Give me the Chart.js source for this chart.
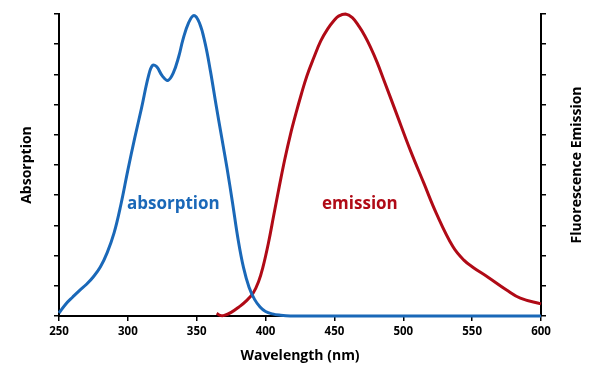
<!DOCTYPE html>
<html>
<head>
<meta charset="utf-8">
<script src="https://cdn.jsdelivr.net/npm/chart.js@4"></script>
<style>
  html, body { margin: 0; padding: 0; background: #fff; }
  #wrap { width: 594px; height: 384px; }
</style>
</head>
<body>
<div id="wrap"><canvas id="spectraChart" width="594" height="384"></canvas></div>
<script>
const ctx = document.getElementById('spectraChart').getContext('2d');

// Datos
const absWavelengths = [250, 255, 260, 265, 270, 275, 280, 285, 290, 295, 300, 305, 310, 315, 318, 321, 325, 329, 333, 337, 340, 344, 348, 352, 356, 360, 364, 368, 372, 376, 380, 384, 388, 392, 396, 400, 405, 410, 418, 450, 500, 550, 600];
const absValues = [0.1, 0.4, 0.63, 0.85, 1.05, 1.3, 1.62, 2.1, 2.75, 3.7, 4.83, 5.9, 6.9, 7.95, 8.3, 8.25, 7.95, 7.8, 8.05, 8.6, 9.15, 9.7, 9.95, 9.7, 9.05, 8.1, 7.0, 5.95, 4.9, 3.75, 2.55, 1.6, 0.95, 0.55, 0.3, 0.15, 0.07, 0.03, 0, 0, 0, 0, 0];

const emWavelengths = [364.5, 367, 370, 375, 381, 386, 391, 395, 398, 402, 406, 410, 414, 418, 422, 426, 430, 435, 440, 445, 450, 453, 458, 463, 468, 472, 476, 481, 486, 495, 505, 515, 524, 536, 544, 551, 561, 575, 585, 600];
const emValues = [0.09, 0.02, 0.02, 0.12, 0.31, 0.5, 0.76, 1.15, 1.6, 2.4, 3.35, 4.3, 5.2, 6.0, 6.7, 7.35, 7.95, 8.55, 9.1, 9.5, 9.8, 9.93, 10, 9.88, 9.58, 9.28, 8.92, 8.4, 7.8, 6.71, 5.5, 4.39, 3.4, 2.3, 1.85, 1.6, 1.3, 0.86, 0.59, 0.4];

const xTicks = [250, 300, 350, 400, 450, 500, 550, 600];

// Etiquetas dentro del gráfico
const curveLabels = [
    { text: 'absorption', x: 333, y: 3.7, color: '#1A68B8' },
    { text: 'emission', x: 468.5, y: 3.7, color: '#B00A16' }
];

const absColor = '#1A68B8';
const emColor = '#B00A16';
const titleFont = 'bold 14px "Open Sans", sans-serif';

// Textos y títulos verticales
const labelPlugin = {
    id: 'curveLabels',
    afterDatasetsDraw(chart) {
        const c = chart.ctx;
        const xs = chart.scales.x;
        const ys = chart.scales.y;
        const area = chart.chartArea;
        c.save();
        c.font = 'bold 17px "Open Sans", sans-serif';
        c.textAlign = 'center';
        c.textBaseline = 'middle';
        curveLabels.forEach(l => {
            c.fillStyle = l.color;
            c.fillText(l.text, xs.getPixelForValue(l.x), ys.getPixelForValue(l.y));
        });
        // títulos de los ejes Y, ambos leídos de abajo hacia arriba
        c.fillStyle = '#000';
        c.font = titleFont;
        const midY = (area.top + area.bottom) / 2;
        [['Absorption', 27], ['Fluorescence Emission', 577]].forEach(t => {
            c.save();
            c.translate(t[1], midY);
            c.rotate(-Math.PI / 2);
            c.fillText(t[0], 0, 0);
            c.restore();
        });
        c.restore();
    }
};

const spectraChart = new Chart(ctx, {
    type: 'line',
    data: {
        datasets: [
            {
                label: 'absorption',
                data: absWavelengths.map((w, i) => ({ x: w, y: absValues[i] })),
                borderColor: absColor,
                borderWidth: 3,
                pointRadius: 0,
                tension: 0.4,
                yAxisID: 'y'
            },
            {
                label: 'emission',
                data: emWavelengths.map((w, i) => ({ x: w, y: emValues[i] })),
                borderColor: emColor,
                borderWidth: 3,
                pointRadius: 0,
                tension: 0.4,
                yAxisID: 'y2'
            }
        ]
    },
    options: {
        responsive: false,
        animation: false,
        clip: false,
        layout: { padding: { top: 14, left: 0, right: 0, bottom: 16 } },
        plugins: {
            legend: { display: false },
            tooltip: { enabled: false }
        },
        scales: {
            x: {
                type: 'linear',
                min: 250,
                max: 600,
                afterBuildTicks: axis => { axis.ticks = xTicks.map(v => ({ value: v })); },
                afterFit: axis => { axis.height = 52; },
                border: { color: '#000', width: 2 },
                grid: { drawOnChartArea: false, color: '#000', tickLength: 5, lineWidth: 1.5 },
                ticks: {
                    color: '#000',
                    padding: 4,
                    font: { family: '"Open Sans", sans-serif', size: 11.5, weight: 'bold' }
                },
                title: {
                    display: true,
                    text: 'Wavelength (nm)',
                    color: '#000',
                    padding: { top: 6 },
                    font: { family: '"Open Sans", sans-serif', size: 14, weight: 'bold' }
                }
            },
            y: {
                position: 'left',
                min: 0,
                max: 10,
                afterFit: axis => { axis.width = 59; },
                border: { color: '#000', width: 2 },
                grid: { drawOnChartArea: false, color: '#000', tickLength: 5, lineWidth: 1.5 },
                ticks: { stepSize: 1, display: false }
            },
            y2: {
                position: 'right',
                min: 0,
                max: 10,
                afterFit: axis => { axis.width = 53; },
                border: { color: '#000', width: 2 },
                grid: { drawOnChartArea: false, color: '#000', tickLength: 5, lineWidth: 1.5 },
                ticks: { stepSize: 1, display: false }
            }
        }
    },
    plugins: [labelPlugin]
});
</script>
</body>
</html>
